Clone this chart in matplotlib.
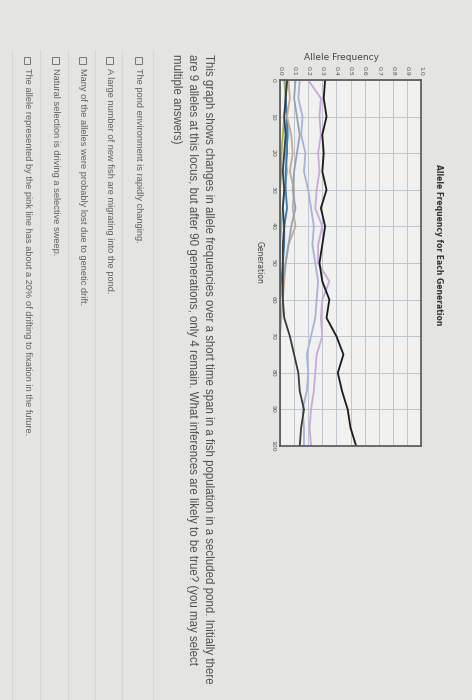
import matplotlib
matplotlib.use("Agg")
import matplotlib.pyplot as plt
from matplotlib.patches import Rectangle
from matplotlib.lines import Line2D

generations = list(range(0, 101, 5))
black = [.32,.31,.33,.30,.31,.30,.33,.29,.32,.30,.28,.30,.35,.33,.40,.45,.41,.44,.48,.50,.54]
pink = [.20,.29,.28,.29,.27,.28,.26,.25,.30,.27,.27,.35,.30,.29,.30,.26,.25,.24,.22,.21,.22]
lavender = [.14,.13,.16,.15,.18,.17,.20,.22,.24,.23,.25,.27,.26,.25,.22,.19,.20,.19,.16,.17,.17]
steel = [.11,.10,.12,.14,.12,.10,.09,.11,.08,.06,.04,.02,0,0,0,0,0,0,0,0,0]
darkgray = [.05,.04,.03,.04,.03,.02,.03,.02,.03,.02,.02,.02,.02,.03,.07,.10,.13,.14,.17,.15,.14]
tan = [.06,.07,.05,.08,.09,.07,.10,.09,.11,.06,.04,.03,.02,.01,0,0,0,0,0,0,0]
blue = [.05,.04,.05,.05,.05,.04,.04,.05,.03,.03,.02,.01,0,0,0,0,0,0,0,0,0]
lightblue = [.04,.04,.05,.06,.04,.05,.03,.02,.01,0,0,0,0,0,0,0,0,0,0,0,0]
green = [.03,.04,.03,.02,.01,.01,0,0,0,0,0,0,0,0,0,0,0,0,0,0,0]
freq_ticks = [0.0,0.1,0.2,0.3,0.4,0.5,0.6,0.7,0.8,0.9,1.0]
gen_ticks = [0,10,20,30,40,50,60,70,80,90,100]

series = [(green,'#a4b04a'),(lightblue,'#7ab8e0'),(blue,'#3a78b0'),(tan,'#c4ab92'),
          (steel,'#93a2ba'),(lavender,'#a9b1da'),(pink,'#c9a9d9'),(darkgray,'#3a3a3a'),(black,'#1a1a1a')]

W, H = 472, 700
fig = plt.figure(figsize=(W/100, H/100), dpi=100, facecolor='#e4e4e2')
def fx(x): return x / W
def fy(y): return 1 - y / H

ax = fig.add_axes([fx(280), fy(446), fx(421) - fx(280), fy(80) - fy(446)])
ax.set_facecolor('#f1f1f0')
for vals, c in series:
    ax.plot(vals, generations, color=c, lw=1.3)
ax.set_xlim(0, 1)
ax.set_ylim(100, 0)
ax.set_xticks(freq_ticks)
ax.set_xticklabels([f"{t:.1f}" for t in freq_ticks], rotation=270, fontsize=4.5, color='#555')
ax.set_yticks(gen_ticks)
ax.set_yticklabels([str(t) for t in gen_ticks], rotation=270, fontsize=4.5, color='#555', va='center')
ax.xaxis.tick_top()
ax.tick_params(length=0, pad=3)
ax.grid(True, color='#bcc4cc', lw=0.7)
for s in ax.spines.values():
    s.set_color('#555'); s.set_linewidth(1.2)

fig.text(fx(342), fy(58), "Allele Frequency", fontsize=6.5, color='#444', ha='center', va='center')
fig.text(fx(259), fy(262), "Generation", fontsize=5.5, color='#444', ha='center', va='center', rotation=270)
fig.text(fx(438), fy(245), "Allele Frequency for Each Generation", fontsize=5.5, fontweight='bold',
         color='#333', ha='center', va='center', rotation=270)

para = ["This graph shows changes in allele frequencies over a short time span in a fish population in a secluded pond. Initially there",
        "are 9 alleles at this locus, but after 90 generations, only 4 remain. What inferences are likely to be true? (you may select",
        "multiple answers)"]
for x, t in zip([208, 192, 176], para):
    fig.text(fx(x), fy(54), t, fontsize=8.3, color='#505050', ha='center', va='top',
             rotation=270, family='Liberation Sans')

options = ["The pond environment is rapidly changing.",
           "A large number of new fish are migrating into the pond.",
           "Many of the alleles were probably lost due to genetic drift.",
           "Natural selection is driving a selective sweep.",
           "The allele represented by the pink line has about a 20% of drifting to fixation in the future."]
for x, t in zip([138, 109, 82, 55, 27], options):
    fig.patches.append(Rectangle((fx(x - 3.5), fy(64)), fx(7), 7 / H, transform=fig.transFigure,
                                 fill=False, edgecolor='#777', lw=0.7))
    fig.text(fx(x), fy(68), t, fontsize=6.7, color='#606060', ha='center', va='top',
             rotation=270, family='Liberation Sans')
for x in [153, 122, 95, 68, 40, 12]:
    fig.add_artist(Line2D([fx(x), fx(x)], [fy(50), fy(700)], transform=fig.transFigure,
                          color='#d6d6d2', lw=0.8))

fig.savefig("out.png", dpi=100, facecolor=fig.get_facecolor())
